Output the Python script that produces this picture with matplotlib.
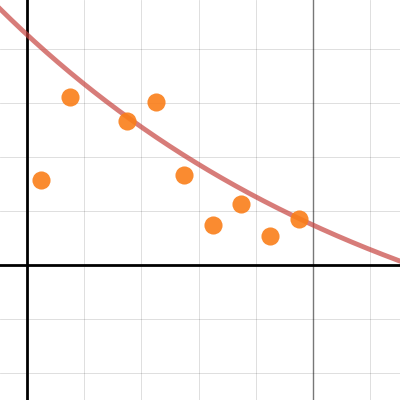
import numpy as np
import matplotlib
matplotlib.use("Agg")
import matplotlib.pyplot as plt

px = [0.25, 0.75, 1.75, 2.25, 2.75, 3.25, 3.75, 4.25, 4.75]
py = [1.57, 3.11, 2.67, 3.02, 1.67, 0.74, 1.13, 0.54, 0.85]
# curve model y = a*exp(-b*x) + c
a, b, c = 7.0, 0.14, -2.74

fig = plt.figure(figsize=(4, 4), dpi=100)
ax = fig.add_axes([0, 0, 1, 1])
xmin, xmax = -0.47, 6.52
ymin, ymax = -2.5, 4.9
ax.set_xlim(xmin, xmax); ax.set_ylim(ymin, ymax)
for gx in range(-1, 8):
    ax.axvline(gx, color='#000000' if gx != 5 else '#777777', lw=1 if gx == 5 else 0.6,
               alpha=1 if gx == 5 else 0.15, zorder=0)
for gy in range(-3, 6):
    ax.axhline(gy, color='#000000', lw=0.6, alpha=0.15, zorder=0)
ax.axvline(0, color='black', lw=2, zorder=1)
ax.axhline(0, color='black', lw=2, zorder=1)
xs = np.linspace(xmin, xmax, 400)
ax.plot(xs, a*np.exp(-b*xs)+c, color='#c74440', alpha=0.7, lw=3.5, zorder=2)
ax.scatter(px, py, s=170, color='#fa7e19', alpha=0.9, lw=0, zorder=3)
ax.set_xticks([]); ax.set_yticks([])
for s in ax.spines.values():
    s.set_visible(False)
fig.savefig("out.png", dpi=100)
